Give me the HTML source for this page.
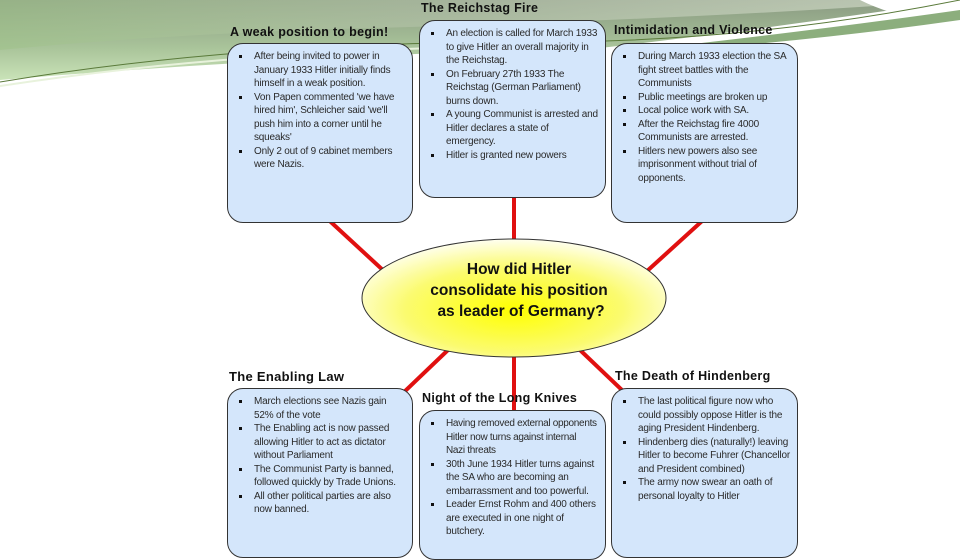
<!DOCTYPE html>
<html><head><meta charset="utf-8"><style>
html,body{margin:0;padding:0}
body{width:960px;height:540px;position:relative;overflow:hidden;background:#fff;font-family:"Liberation Sans",sans-serif}
.box{position:absolute;background:#d4e6fb;border:1px solid #333;border-radius:16px;box-sizing:border-box;padding:6px 6px 0 6px}
.box ul{margin:0;padding:0 0 0 20px;list-style:none}
.box li{font-size:10px;line-height:13.5px;color:#2a2a2a;position:relative;letter-spacing:-0.2px}
.box li:before{content:"";position:absolute;left:-15px;top:5px;width:3px;height:3px;background:#111}
.t{position:absolute;font-weight:bold;font-size:12.5px;color:#111;letter-spacing:0.3px;white-space:nowrap}
</style></head><body>
<svg width="960" height="540" style="position:absolute;left:0;top:0">
<defs>
<linearGradient id="hg" x1="0" y1="0" x2="0" y2="1">
<stop offset="0" stop-color="#8a9a82"/><stop offset="0.6" stop-color="#a9c49a"/><stop offset="1" stop-color="#c9e3b8"/></linearGradient>
<linearGradient id="hg2" x1="0" y1="0" x2="1" y2="0">
<stop offset="0" stop-color="#9fc28a"/><stop offset="0.5" stop-color="#b8c4ae"/><stop offset="1" stop-color="#dfe6d6"/></linearGradient>
<radialGradient id="eg" cx="0.5" cy="0.6" r="0.6">
<stop offset="0" stop-color="#ffff00"/><stop offset="0.6" stop-color="#fbfb70"/><stop offset="1" stop-color="#fffff0"/></radialGradient>
</defs>
<path d="M0,0 L960,0 L960,0 Q760,30 600,48 Q300,55 0,80 Z" fill="url(#hg)"/>
<path d="M0,0 L960,0 Q700,20 300,30 Q120,38 0,50 Z" fill="url(#hg2)" opacity="0.6"/>
<path d="M860,0 Q900,20 960,25 L960,0 Z" fill="#fff"/>
<path d="M0,82 Q250,40 560,42 Q760,40 960,0" fill="none" stroke="#5a7a3a" stroke-width="1"/>
<path d="M0,86 Q260,46 600,45" fill="none" stroke="#e8f2dc" stroke-width="2"/>
<path d="M640,50 Q820,30 960,10 L960,20 Q820,40 660,52 Z" fill="#6f9a5c" opacity="0.8"/>
<g stroke="#e01010" stroke-width="4">
<line x1="320" y1="212" x2="385" y2="272"/>
<line x1="514" y1="195" x2="514" y2="240"/>
<line x1="712" y1="212" x2="646" y2="272"/>
<line x1="448" y1="350" x2="402" y2="394"/>
<line x1="514" y1="356" x2="514" y2="412"/>
<line x1="580" y1="350" x2="624" y2="392"/>
</g>
<ellipse cx="514" cy="298" rx="152" ry="59" fill="url(#eg)" stroke="#333" stroke-width="1"/>
<text x="519" y="274" text-anchor="middle" font-family="Liberation Sans" font-weight="bold" font-size="15.5" fill="#111">How did Hitler</text>
<text x="519" y="295" text-anchor="middle" font-family="Liberation Sans" font-weight="bold" font-size="15.5" fill="#111">consolidate his position</text>
<text x="521" y="316" text-anchor="middle" font-family="Liberation Sans" font-weight="bold" font-size="15.5" fill="#111">as leader of Germany?</text>
</svg>

<div class="t" style="left:230px;top:25px">A weak position to begin!</div>
<div class="box" style="left:227px;top:43px;width:186px;height:180px"><ul>
<li>After being invited to power in January 1933 Hitler initially finds himself in a weak position.</li>
<li>Von Papen commented 'we have hired him', Schleicher said 'we'll push him into a corner until he squeaks'</li>
<li>Only 2 out of 9 cabinet members were Nazis.</li></ul></div>

<div class="t" style="left:421px;top:1px">The Reichstag Fire</div>
<div class="box" style="left:419px;top:20px;width:187px;height:178px"><ul>
<li>An election is called for March 1933 to give Hitler an overall majority in the Reichstag.</li>
<li>On February 27th 1933 The Reichstag (German Parliament) burns down.</li>
<li>A young Communist is arrested and Hitler declares a state of emergency.</li>
<li>Hitler is granted new powers</li></ul></div>

<div class="t" style="left:614px;top:23px">Intimidation and Violence</div>
<div class="box" style="left:611px;top:43px;width:187px;height:180px"><ul>
<li>During March 1933 election the SA fight street battles with the Communists</li>
<li>Public meetings are broken up</li>
<li>Local police work with SA.</li>
<li>After the Reichstag fire 4000 Communists are arrested.</li>
<li>Hitlers new powers also see imprisonment without trial of opponents.</li></ul></div>

<div class="t" style="left:229px;top:369px;font-size:13px">The Enabling Law</div>
<div class="box" style="left:227px;top:388px;width:186px;height:170px"><ul>
<li>March elections see Nazis gain 52% of the vote</li>
<li>The Enabling act is now passed allowing Hitler to act as dictator without Parliament</li>
<li>The Communist Party is banned, followed quickly by Trade Unions.</li>
<li>All other political parties are also now banned.</li></ul></div>

<div class="t" style="left:422px;top:391px">Night of the Long Knives</div>
<div class="box" style="left:419px;top:410px;width:187px;height:150px;padding-right:2px"><ul>
<li style="white-space:nowrap;letter-spacing:-0.3px">Having removed external opponents<br>Hitler now turns against internal<br>Nazi threats</li>
<li>30th June 1934 Hitler turns against the SA who are becoming an embarrassment and too powerful.</li>
<li>Leader Ernst Rohm and 400 others are executed in one night of butchery.</li></ul></div>

<div class="t" style="left:615px;top:369px">The Death of Hindenberg</div>
<div class="box" style="left:611px;top:388px;width:187px;height:170px"><ul>
<li>The last political figure now who could possibly oppose Hitler is the aging President Hindenberg.</li>
<li>Hindenberg dies (naturally!) leaving Hitler to become Fuhrer (Chancellor and President combined)</li>
<li>The army now swear an oath of personal loyalty to Hitler</li></ul></div>
</body></html>
